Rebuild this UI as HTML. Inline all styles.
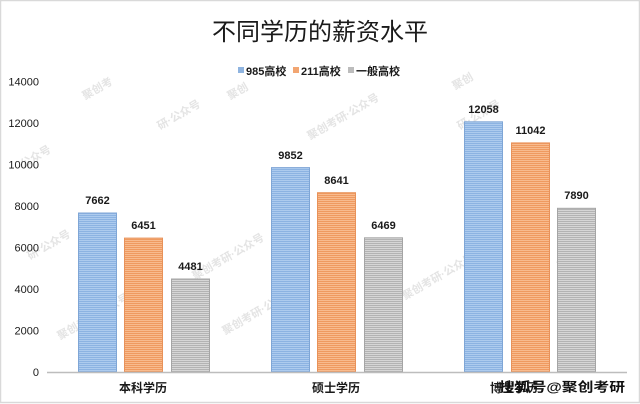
<!DOCTYPE html>
<html>
<head>
<meta charset="utf-8">
<style>
  html,body{margin:0;padding:0;background:#fff;}
  body{width:640px;height:404px;overflow:hidden;position:relative;}
  svg{display:block;}
  .t{font-family:"Liberation Sans","Noto Sans CJK SC",sans-serif;}
</style>
</head>
<body>
<svg width="640" height="404" viewBox="0 0 640 404" xmlns="http://www.w3.org/2000/svg">
  <defs>
    <pattern id="pb" width="4" height="2" patternUnits="userSpaceOnUse">
      <rect width="4" height="2" fill="#8cb3e2"/>
      <rect width="4" height="1" fill="#adcbee"/>
    </pattern>
    <pattern id="po" width="4" height="2" patternUnits="userSpaceOnUse">
      <rect width="4" height="2" fill="#ef9a60"/>
      <rect width="4" height="1" fill="#f8bb8e"/>
    </pattern>
    <pattern id="pg" width="4" height="2" patternUnits="userSpaceOnUse">
      <rect width="4" height="2" fill="#b3b3b3"/>
      <rect width="4" height="1" fill="#d6d6d6"/>
    </pattern>
  </defs>

  <rect x="0.5" y="0.5" width="639" height="402" fill="#fff" stroke="#d9d9d9" stroke-width="1.5"/>

  <!-- watermarks -->
  <g class="t" fill="#e4e4e4" font-size="11" font-weight="bold">
    <text transform="translate(85,100) rotate(-30)">聚创考</text>
    <text transform="translate(230,100) rotate(-30)">聚创</text>
    <text transform="translate(455,90) rotate(-30)">聚创</text>
    <text transform="translate(160,130) rotate(-30)">研·公众号</text>
    <text transform="translate(310,140) rotate(-30)">聚创考研·公众号</text>
    <text transform="translate(460,130) rotate(-30)">研·公众号</text>
    <text transform="translate(20,170) rotate(-30)">·公众号</text>
    <text transform="translate(30,260) rotate(-30)">研·公众号</text>
    <text transform="translate(195,280) rotate(-30)">聚创考研·公众号</text>
    <text transform="translate(405,300) rotate(-30)">聚创考研·公众号</text>
    <text transform="translate(60,340) rotate(-30)">聚创考研·公众号</text>
    <text transform="translate(225,335) rotate(-30)">聚创考研·公众号</text>
    <text transform="translate(560,270) rotate(-30)">聚创考</text>
  </g>

  <!-- title -->
  <text class="t" x="320" y="40" text-anchor="middle" font-size="24" fill="#1a1a1a">不同学历的薪资水平</text>

  <!-- legend -->
  <g class="t" font-size="11" font-weight="bold" fill="#1a1a1a">
    <rect x="238" y="67" width="6" height="6" fill="#8fb4e0"/>
    <text x="246" y="75">985高校</text>
    <rect x="293" y="67" width="6" height="6" fill="#f2a672"/>
    <text x="301" y="75">211高校</text>
    <rect x="348" y="67" width="6" height="6" fill="#bcbcbc"/>
    <text x="356" y="75">一般高校</text>
  </g>

  <!-- y axis labels -->
  <g class="t" font-size="11" fill="#1a1a1a" text-anchor="end">
    <text x="39" y="376">0</text>
    <text x="39" y="334.5">2000</text>
    <text x="39" y="293">4000</text>
    <text x="39" y="251.5">6000</text>
    <text x="39" y="210">8000</text>
    <text x="39" y="168.5">10000</text>
    <text x="39" y="127">12000</text>
    <text x="39" y="85.5">14000</text>
  </g>

  <!-- bars -->
  <g stroke-width="1">
    <rect x="78.5" y="213" width="38" height="159" fill="url(#pb)" stroke="#7fa6d6"/>
    <rect x="124.5" y="238.1" width="38" height="133.9" fill="url(#po)" stroke="#e8925a"/>
    <rect x="171.5" y="279" width="38" height="93" fill="url(#pg)" stroke="#a5a5a5"/>

    <rect x="271.5" y="167.6" width="38" height="204.4" fill="url(#pb)" stroke="#7fa6d6"/>
    <rect x="317.5" y="192.7" width="38" height="179.3" fill="url(#po)" stroke="#e8925a"/>
    <rect x="364.5" y="237.8" width="38" height="134.2" fill="url(#pg)" stroke="#a5a5a5"/>

    <rect x="464.5" y="121.8" width="38" height="250.2" fill="url(#pb)" stroke="#7fa6d6"/>
    <rect x="511.5" y="142.9" width="38" height="229.1" fill="url(#po)" stroke="#e8925a"/>
    <rect x="557.5" y="208.3" width="38" height="163.7" fill="url(#pg)" stroke="#a5a5a5"/>
  </g>

  <!-- axis line -->
  <line x1="47" y1="372.5" x2="627" y2="372.5" stroke="#bdbdbd" stroke-width="1.5"/>

  <!-- data labels -->
  <g class="t" font-size="11" font-weight="bold" fill="#1a1a1a" text-anchor="middle">
    <text x="97.5" y="204">7662</text>
    <text x="143.5" y="229">6451</text>
    <text x="190.5" y="270">4481</text>
    <text x="290.5" y="159">9852</text>
    <text x="336.5" y="184">8641</text>
    <text x="383.5" y="229">6469</text>
    <text x="483.5" y="113">12058</text>
    <text x="530.5" y="134">11042</text>
    <text x="576.5" y="199">7890</text>
  </g>

  <!-- category labels -->
  <g class="t" font-size="12" font-weight="bold" fill="#1a1a1a" text-anchor="middle">
    <text x="143" y="392">本科学历</text>
    <text x="336" y="392">硕士学历</text>
  </g>
  <g class="t" font-weight="bold">
    <text x="490" y="392" fill="#1a1a1a" font-size="12">博士学历</text>
    <text x="499" y="391.5" fill="#111" font-size="13" textLength="126" lengthAdjust="spacingAndGlyphs">搜狐号@聚创考研</text>
  </g>
</svg>
</body>
</html>
